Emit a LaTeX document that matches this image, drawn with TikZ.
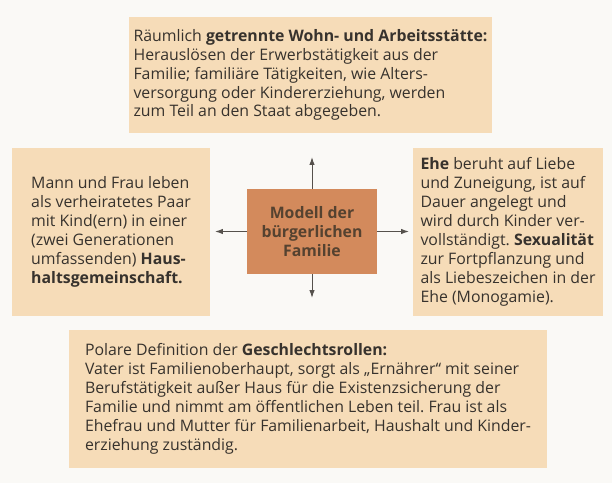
\documentclass[tikz,border=0pt]{standalone}
\usepackage{fontspec}
\setmainfont{Open Sans}
\usepackage{xcolor}
\usepackage{tikz}
\usetikzlibrary{arrows.meta}
\frenchspacing
\definecolor{paper}{RGB}{250,249,246}
\definecolor{boxfill}{RGB}{246,220,184}
\definecolor{corefill}{RGB}{211,138,92}
\definecolor{ink}{RGB}{55,50,45}
\definecolor{coreink}{RGB}{85,66,48}
\tikzstyle{every box node}=[inner sep=0pt,fill=boxfill,text=ink,align=left,font=\fontsize{15.9}{19}\selectfont]
\tikzstyle{arr}=[draw=ink!85,line width=1pt,-{Latex[length=8pt,width=5.5pt]}]

\begin{document}
\begin{tikzpicture}[x=1bp,y=-1bp]
\useasboundingbox[fill=paper] (0,0) rectangle (612,483);
\node[every box node, minimum width=365, minimum height=116] (top) at (310.5,75) {R\"aumlich \textbf{getrennte Wohn- und Arbeitsst\"atte:}\\Herausl\"osen der Erwerbst\"atigkeit aus der\\Familie; famili\"are T\"atigkeiten, wie Alters-\\versorgung oder Kindererziehung, werden\\zum Teil an den Staat abgegeben.};
\node[every box node, minimum width=198, minimum height=168] (left) at (111,232) {Mann und Frau leben\\als verheiratetes Paar\\mit Kind(ern) in einer\\(zwei Generationen\\umfassenden) \textbf{Haus-}\\\textbf{haltsgemeinschaft.}};
\node[every box node, minimum width=190, minimum height=168] (right) at (508,232) {\textbf{Ehe} beruht auf Liebe\\und Zuneigung, ist auf\\Dauer angelegt und\\wird durch Kinder ver-\\vollst\"andigt. \textbf{Sexualit\"at}\\zur Fortpflanzung und\\als Liebeszeichen in der\\Ehe (Monogamie).};
\node[every box node, minimum width=480, minimum height=138] (bottom) at (308,399) {Polare Definition der \textbf{Geschlechtsrollen:}\\Vater ist Familienoberhaupt, sorgt als „Ern\"ahrer“ mit seiner\\Berufst\"atigkeit au\ss er Haus f\"ur die Existenzsicherung der\\Familie und nimmt am \"offentlichen Leben teil. Frau ist als\\Ehefrau und Mutter f\"ur Familienarbeit, Haushalt und Kinder-\\erziehung zust\"andig.};
\node[every box node, fill=corefill, text=coreink, align=center, minimum width=130, minimum height=85, font=\bfseries\fontsize{15.9}{19}\selectfont] (core) at (312,231.5) {Modell der\\b\"urgerlichen\\Familie};
\coordinate (up) at (312,157);
\coordinate (down) at (312,298);
\coordinate (west) at (215,231.5);
\coordinate (east) at (409,231.5);
\draw[arr] (core.north) -- (up);
\draw[arr] (core.south) -- (down);
\draw[arr] (core.west) -- (west);
\draw[arr] (core.east) -- (east);
\end{tikzpicture}
\end{document}
